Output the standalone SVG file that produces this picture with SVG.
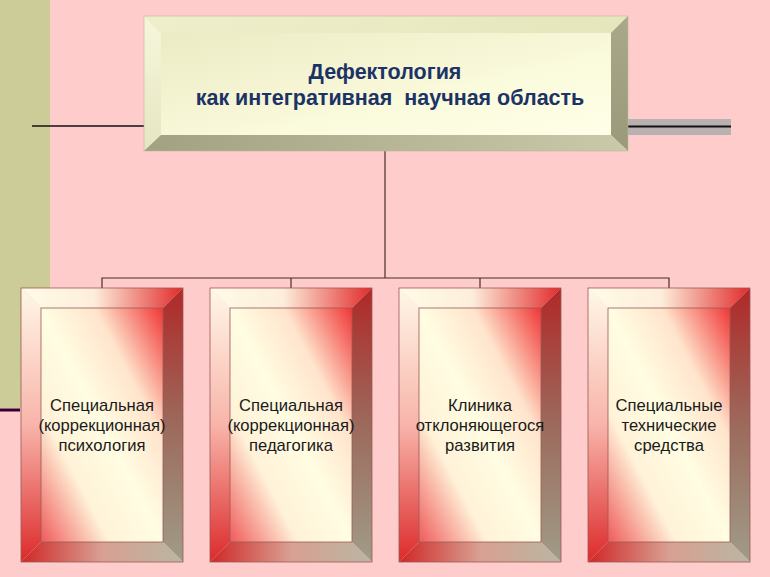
<svg xmlns="http://www.w3.org/2000/svg" width="770" height="577" viewBox="0 0 770 577">
<style>
.conn{stroke:#4a2a2a;stroke-width:1.2;fill:none}
.title{font-family:"Liberation Sans",Arial,sans-serif;font-weight:bold;font-size:21.5px;fill:#1c3366;text-anchor:middle}
.lbl{font-family:"Liberation Sans",Arial,sans-serif;font-size:16.6px;fill:#1a1a1a;text-anchor:middle}
.edge{stroke:#9a5a55;stroke-width:0.8;fill:none}
.tedge{stroke:#b8b898;stroke-width:0.6;fill:none}
</style>
<defs>
<linearGradient id="tTop" x1="0" y1="0" x2="1" y2="0"><stop offset="0" stop-color="#eeeecb"/><stop offset="1" stop-color="#e6e6bc"/></linearGradient>
<linearGradient id="tLeft" x1="0" y1="0" x2="0" y2="1"><stop offset="0" stop-color="#f6f6dc"/><stop offset="1" stop-color="#e6e6c2"/></linearGradient>
<linearGradient id="tRight" x1="0" y1="0" x2="0" y2="1"><stop offset="0" stop-color="#a9a98a"/><stop offset="1" stop-color="#9a9a7a"/></linearGradient>
<linearGradient id="tBot" x1="0" y1="0" x2="1" y2="0"><stop offset="0" stop-color="#a2a282"/><stop offset="1" stop-color="#cacaaa"/></linearGradient>
<linearGradient id="tFace" x1="0" y1="0" x2="1" y2="1"><stop offset="0" stop-color="#ebebc4"/><stop offset="0.6" stop-color="#fafadc"/><stop offset="1" stop-color="#ffffe8"/></linearGradient>
<linearGradient id="cTop" x1="0" y1="0" x2="1" y2="0"><stop offset="0" stop-color="#fffbe6"/><stop offset="0.45" stop-color="#fdeedb"/><stop offset="1" stop-color="#e22a2a"/></linearGradient>
<linearGradient id="cLeft" x1="0" y1="0" x2="0" y2="1"><stop offset="0" stop-color="#fff8e8"/><stop offset="0.5" stop-color="#f8b4aa"/><stop offset="1" stop-color="#dc2a2a"/></linearGradient>
<linearGradient id="cRight" x1="0" y1="0" x2="0" y2="1"><stop offset="0" stop-color="#b02828"/><stop offset="0.5" stop-color="#9c6a5c"/><stop offset="1" stop-color="#a09c88"/></linearGradient>
<linearGradient id="cBot" x1="0" y1="0" x2="1" y2="0"><stop offset="0" stop-color="#cf2626"/><stop offset="0.5" stop-color="#d8a092"/><stop offset="1" stop-color="#bab6a2"/></linearGradient>
<linearGradient id="cFace" x1="1" y1="0" x2="0" y2="1"><stop offset="0" stop-color="#f03636"/><stop offset="0.28" stop-color="#ffe4cc"/><stop offset="0.5" stop-color="#fffde2"/><stop offset="0.72" stop-color="#fff2d8"/><stop offset="1" stop-color="#ef5a5a"/></linearGradient>
<g id="childShape">
<polygon points="0,0 162,0 142,20 20,20" fill="url(#cTop)"/>
<polygon points="0,0 20,20 20,254 0,274" fill="url(#cLeft)"/>
<polygon points="162,0 162,274 142,254 142,20" fill="url(#cRight)"/>
<polygon points="0,274 20,254 142,254 162,274" fill="url(#cBot)"/>
<rect x="20" y="20" width="122" height="234" fill="url(#cFace)"/>
<rect x="0" y="0" width="162" height="274" class="edge"/>
<rect x="20" y="20" width="122" height="234" class="edge"/>
</g>
</defs>
<rect width="770" height="577" fill="#ffcccc"/>
<g id="decor">
<rect x="0" y="0" width="50" height="408" fill="#cccc99"/>
<rect x="0" y="408.5" width="20" height="3" fill="#330033"/>
<rect x="628" y="119" width="103" height="16" fill="#b9b1b1"/>
<line x1="628" y1="126.5" x2="731" y2="126.5" stroke="#111" stroke-width="2"/>
<line x1="32" y1="126" x2="144" y2="126" stroke="#111" stroke-width="1.5"/>
</g>
<g id="connectors">
<line class="conn" x1="385" y1="151" x2="385" y2="278"/>
<polyline class="conn" points="102,288 102,278 669,278 669,288"/>
<line class="conn" x1="291" y1="278" x2="291" y2="288"/>
<line class="conn" x1="480" y1="278" x2="480" y2="288"/>
</g>
<g id="root">
<polygon points="144,16 628,16 611,33 161,33" fill="url(#tTop)"/>
<polygon points="144,16 161,33 161,135 144,151" fill="url(#tLeft)"/>
<polygon points="628,16 628,151 611,135 611,33" fill="url(#tRight)"/>
<polygon points="144,151 161,135 611,135 628,151" fill="url(#tBot)"/>
<rect x="161" y="33" width="450" height="102" fill="url(#tFace)"/>
<rect x="144" y="16" width="484" height="135" class="tedge"/>
<text class="title" x="385" y="79">Дефектология</text>
<text class="title" x="390" y="105" xml:space="preserve">как интегративная  научная область</text>
</g>
<g id="node1">
<use href="#childShape" transform="translate(21,288)"/>
<text class="lbl" x="102" y="411">Специальная</text>
<text class="lbl" x="102" y="431">(коррекционная)</text>
<text class="lbl" x="102" y="451">психология</text>
</g>
<g id="node2">
<use href="#childShape" transform="translate(210,288)"/>
<text class="lbl" x="291" y="411">Специальная</text>
<text class="lbl" x="291" y="431">(коррекционная)</text>
<text class="lbl" x="291" y="451">педагогика</text>
</g>
<g id="node3">
<use href="#childShape" transform="translate(399,288)"/>
<text class="lbl" x="480" y="411">Клиника</text>
<text class="lbl" x="480" y="431">отклоняющегося</text>
<text class="lbl" x="480" y="451">развития</text>
</g>
<g id="node4">
<use href="#childShape" transform="translate(588,288)"/>
<text class="lbl" x="669" y="411">Специальные</text>
<text class="lbl" x="669" y="431">технические</text>
<text class="lbl" x="669" y="451">средства</text>
</g>
</svg>
